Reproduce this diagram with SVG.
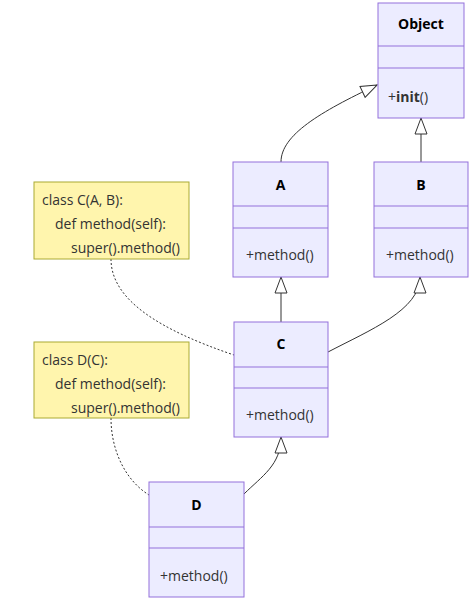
<svg xmlns="http://www.w3.org/2000/svg" width="474" height="602" viewBox="0 0 474 602">
<defs>
<style>
.box{fill:#ECECFF;stroke:#9370DB;stroke-width:1}
.div{stroke:#9370DB;stroke-width:1}
.note{fill:#fff5ad;stroke:#aaaa33;stroke-width:1}
text{font-family:"Open Sans","Liberation Sans",sans-serif;font-size:14px;fill:#333}
.title{font-weight:bold;text-anchor:middle;fill:#000}
.edge{fill:none;stroke:#333;stroke-width:1}
.dot{fill:none;stroke:#333;stroke-width:1;stroke-dasharray:2,2}
</style>
<marker id="ext" markerUnits="userSpaceOnUse" markerWidth="20" markerHeight="14" viewBox="-17 -7 18 14" refX="0" refY="0" orient="auto">
<path d="M0,0 L-16,-6 L-16,6 Z" fill="#fff" stroke="#333" stroke-width="1"/>
</marker>
</defs>
<g id="connectors">
<path class="edge" d="M281,162 C281,135 320,112 377,85" marker-end="url(#ext)"/>
<path class="edge" d="M421,162 L421,118" marker-end="url(#ext)"/>
<path class="edge" d="M281,322 L281,277" marker-end="url(#ext)"/>
<path class="edge" d="M328,352 C370,330 420,310 420,277" marker-end="url(#ext)"/>
<path class="edge" d="M244,494 C262,476 281,465 281,437" marker-end="url(#ext)"/>
<path class="dot" d="M111,259 C111,300 160,330 234,355"/>
<path class="dot" d="M111,418 C111,450 125,480 149,495"/>
</g>
<g id="Object">
<rect class="box" x="378" y="3" width="86" height="115"/>
<line class="div" x1="378" y1="46" x2="464" y2="46"/>
<line class="div" x1="378" y1="68" x2="464" y2="68"/>
<text class="title" x="421" y="29">Object</text>
<text x="388" y="102">+<tspan font-weight="bold">init</tspan>()</text>
</g>
<g id="A">
<rect class="box" x="233" y="162" width="95" height="115"/>
<line class="div" x1="233" y1="206" x2="328" y2="206"/>
<line class="div" x1="233" y1="228" x2="328" y2="228"/>
<text class="title" x="280.5" y="190">A</text>
<text x="246" y="260">+method()</text>
</g>
<g id="B">
<rect class="box" x="374" y="162" width="94" height="115"/>
<line class="div" x1="374" y1="206" x2="468" y2="206"/>
<line class="div" x1="374" y1="228" x2="468" y2="228"/>
<text class="title" x="421" y="190">B</text>
<text x="386" y="260">+method()</text>
</g>
<g id="C">
<rect class="box" x="234" y="322" width="94" height="115"/>
<line class="div" x1="234" y1="367" x2="328" y2="367"/>
<line class="div" x1="234" y1="388" x2="328" y2="388"/>
<text class="title" x="281" y="349">C</text>
<text x="246" y="420">+method()</text>
</g>
<g id="D">
<rect class="box" x="149" y="482" width="95" height="115"/>
<line class="div" x1="149" y1="527" x2="244" y2="527"/>
<line class="div" x1="149" y1="548" x2="244" y2="548"/>
<text class="title" x="196.5" y="510">D</text>
<text x="160" y="581">+method()</text>
</g>
<g id="note1">
<rect class="note" x="34" y="182" width="155" height="77"/>
<text x="42" y="205">class C(A, B):</text>
<text x="55" y="229">def method(self):</text>
<text x="71" y="253">super().method()</text>
</g>
<g id="note2">
<rect class="note" x="34" y="342" width="155" height="76"/>
<text x="42" y="365">class D(C):</text>
<text x="55" y="389">def method(self):</text>
<text x="71" y="413">super().method()</text>
</g>
</svg>
